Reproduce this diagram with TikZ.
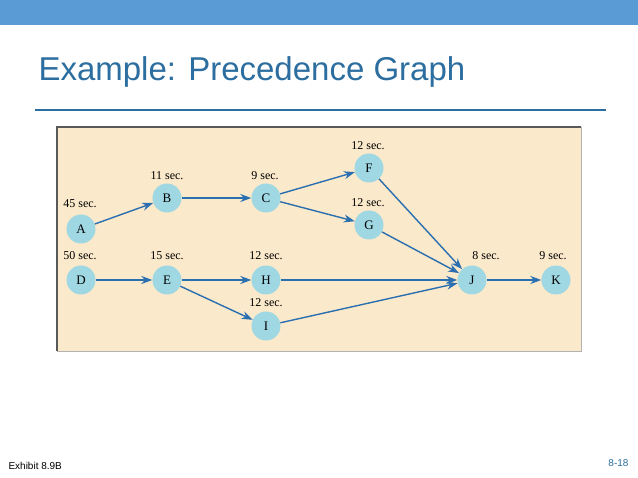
\documentclass[tikz,border=0pt]{standalone}
\usepackage{fontspec}
\setmainfont{Liberation Serif}
\newfontfamily\sans{Liberation Sans}
\usetikzlibrary{arrows.meta}
\definecolor{bar}{HTML}{5B9BD5}
\definecolor{ttl}{HTML}{2C6E9F}
\definecolor{panel}{HTML}{FBE9CB}
\definecolor{nd}{HTML}{9FD8E3}
\definecolor{arr}{HTML}{2A6FB0}
\begin{document}
\begin{tikzpicture}[x=1pt,y=-1pt,
  task/.style={circle,fill=nd,minimum size=29pt,inner sep=0pt,font=\fontsize{13}{13}\selectfont},
  lab/.style={font=\fontsize{12}{12}\selectfont},
  link/.style={draw=arr,line width=1.4pt,-{Stealth[length=11pt,width=8pt]}}]
\useasboundingbox (0,0) rectangle (638,478);
\fill[white] (0,0) rectangle (638,478);
\fill[bar] (0,0) rectangle (638,25);
\node[anchor=west,text=ttl,font=\sans\fontsize{33}{33}\selectfont] (title) at (35,72) {Example: Precedence Graph};
\draw[ttl,line width=1.2pt] (35,110) -- (606,110);
\fill[panel] (57,127) rectangle (581,351);
\draw[gray!70!black,line width=1.2pt] (57,351) -- (57,127) -- (581,127);
\draw[gray!60,line width=0.6pt] (581,127) -- (581,351) -- (57,351);
\node[task] (A) at (81,229) {A};
\node[task] (B) at (167,198) {B};
\node[task] (C) at (266,198) {C};
\node[task] (F) at (369,168) {F};
\node[task] (G) at (369,225) {G};
\node[task] (D) at (81,280) {D};
\node[task] (E) at (167,280) {E};
\node[task] (H) at (266,280) {H};
\node[task] (I) at (266,326) {I};
\node[task] (J) at (472,280) {J};
\node[task] (K) at (556,280) {K};
\node[lab] (lA) at (80,204) {45 sec.};
\node[lab] (lB) at (167,176) {11 sec.};
\node[lab] (lC) at (265,176) {9 sec.};
\node[lab] (lF) at (368,146) {12 sec.};
\node[lab] (lG) at (368,203) {12 sec.};
\node[lab] (lD) at (80,256) {50 sec.};
\node[lab] (lE) at (167,256) {15 sec.};
\node[lab] (lH) at (266,256) {12 sec.};
\node[lab] (lI) at (266,303) {12 sec.};
\node[lab] (lJ) at (486,256) {8 sec.};
\node[lab] (lK) at (553,256) {9 sec.};
\draw[link] (A) -- (B);
\draw[link] (B) -- (C);
\draw[link] (C) -- (F);
\draw[link] (C) -- (G);
\draw[link] (F) -- (J);
\draw[link] (G) -- (J);
\draw[link] (D) -- (E);
\draw[link] (E) -- (H);
\draw[link] (E) -- (I);
\draw[link] (H) -- (J);
\draw[link] (I) -- (J);
\draw[link] (J) -- (K);
\node[anchor=west,font=\sans\fontsize{10}{10}\selectfont] (ex) at (5,466) {Exhibit 8.9B};
\node[anchor=east,text=ttl,font=\sans\fontsize{10}{10}\selectfont] (pg) at (632,463) {8-18};
\end{tikzpicture}
\end{document}
